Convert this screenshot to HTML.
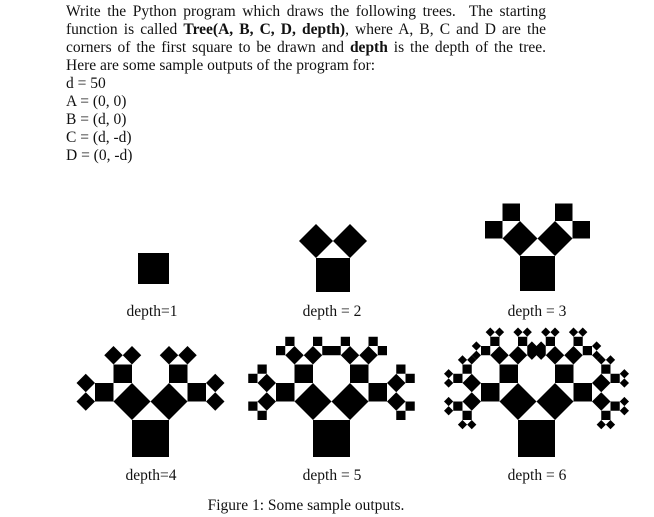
<!DOCTYPE html>
<html><head><meta charset="utf-8">
<style>
html,body{margin:0;padding:0;background:#fff;width:654px;height:517px;overflow:hidden;}
body{font-family:"Liberation Serif",serif;font-size:15.5px;color:#111;position:relative;}
.t{position:absolute;left:66px;width:480px;line-height:18px;top:3px;}
.j{text-align:justify;text-align-last:justify;display:block;white-space:nowrap;}
.j2{display:block;}
.lab{position:absolute;font-size:15.5px;transform:translateX(-50%);white-space:nowrap;}
svg{position:absolute;left:0;top:0;}
</style></head><body>
<div class="t">
<span class="j">Write the Python program which draws the following trees. &nbsp;The starting</span>
<span class="j">function is called <b>Tree(A, B, C, D, depth)</b>, where A, B, C and D are the</span>
<span class="j">corners of the first square to be drawn and <b>depth</b> is the depth of the tree.</span>
<span class="j2">Here are some sample outputs of the program for:</span>
<span class="j2">d = 50</span>
<span class="j2">A = (0, 0)</span>
<span class="j2">B = (d, 0)</span>
<span class="j2">C = (d, -d)</span>
<span class="j2">D = (0, -d)</span>
</div>
<svg id="s" width="654" height="517" viewBox="0 0 654 517"></svg>
<div class="lab" style="left:152px;top:303px">depth=1</div>
<div class="lab" style="left:332px;top:303px">depth = 2</div>
<div class="lab" style="left:537px;top:303px">depth = 3</div>
<div class="lab" style="left:151px;top:467px">depth=4</div>
<div class="lab" style="left:332px;top:467px">depth = 5</div>
<div class="lab" style="left:537px;top:467px">depth = 6</div>
<div class="lab" style="left:306px;top:497px">Figure 1: Some sample outputs.</div>
<script>
var s=document.getElementById('s'),out='';
function tree(x1,y1,x2,y2,d){
  if(d<=0)return;
  var vx=x2-x1,vy=y2-y1,nx=vy,ny=-vx;
  var x3=x2+nx,y3=y2+ny,x4=x1+nx,y4=y1+ny;
  out+='<polygon points="'+x1+','+y1+' '+x2+','+y2+' '+x3+','+y3+' '+x4+','+y4+'"/>';
  var ex=x4+(vx+nx)/2,ey=y4+(vy+ny)/2;
  tree(x4,y4,ex,ey,d-1);
  tree(ex,ey,x3,y3,d-1);
}
tree(138,284,169,284,1);
tree(316,292,350,292,2);
tree(520,291,555,291,3);
tree(132,457,169,457,4);
tree(313,457,350,457,5);
tree(518,457,555,457,6);
s.innerHTML='<g fill="#000">'+out+'</g>';
</script>
</body></html>
